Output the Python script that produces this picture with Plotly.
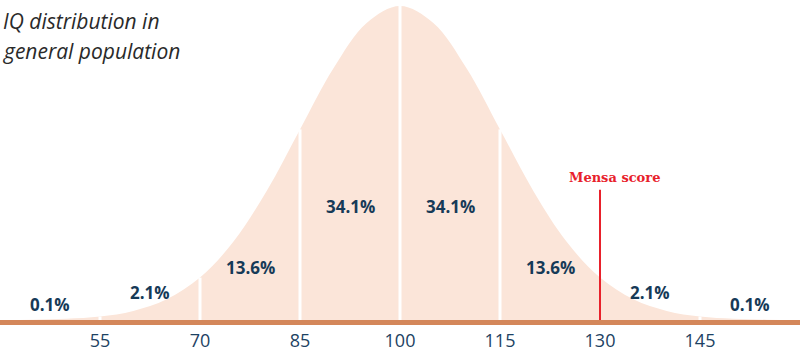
import plotly.graph_objects as go

# Curve height (relative to peak) at IQ steps of 5
iq = [40, 45, 50, 55, 60, 65, 70, 75, 80, 85, 90, 95, 100,
      105, 110, 115, 120, 125, 130, 135, 140, 145, 150, 155, 160]
height = [0.000, 0.001, 0.004, 0.011, 0.029, 0.066, 0.135, 0.249, 0.411, 0.607, 0.801, 0.946, 1.000,
          0.946, 0.801, 0.607, 0.411, 0.249, 0.135, 0.066, 0.029, 0.011, 0.004, 0.001, 0.000]

tick_vals = [55, 70, 85, 100, 115, 130, 145]
tick_text = ["55", "70", "85", "100", "115", "130", "145"]

separators = [55, 70, 85, 100, 115, 145]

band_centers = [47.5, 62.5, 77.5, 92.5, 107.5, 122.5, 137.5, 152.5]
band_labels = ["0.1%", "2.1%", "13.6%", "34.1%", "34.1%", "13.6%", "2.1%", "0.1%"]
label_heights = [0.048, 0.089, 0.166, 0.36, 0.36, 0.166, 0.089, 0.048]

mensa_score = 130
mensa_top = 0.415
mensa_label = "Mensa score"
title_lines = ["IQ distribution in", "general population"]

fig = go.Figure()

fig.add_trace(go.Scatter(
    x=iq, y=height, mode="lines", line=dict(color="#fbe5d9", width=0, shape="spline"),
    fill="tozeroy", fillcolor="#fbe5d9", hoverinfo="skip", showlegend=False))

lookup = dict(zip(iq, height))
for s in separators:
    fig.add_trace(go.Scatter(
        x=[s, s], y=[0, lookup[s]], mode="lines",
        line=dict(color="white", width=3), hoverinfo="skip", showlegend=False))

fig.add_trace(go.Scatter(
    x=[mensa_score, mensa_score], y=[0, mensa_top], mode="lines",
    line=dict(color="#e8212b", width=2), hoverinfo="skip", showlegend=False))

for xc, lab, yh in zip(band_centers, band_labels, label_heights):
    fig.add_annotation(x=xc, y=yh, text="<b>%s</b>" % lab, showarrow=False,
                       font=dict(family="Open Sans", size=17, color="#163a57"),
                       xanchor="center", yanchor="middle")

fig.add_annotation(x=mensa_score + 2.1, y=0.455, text="<b>%s</b>" % mensa_label, showarrow=False,
                   font=dict(family="DejaVu Serif", size=13, color="#e8212b"),
                   xanchor="center", yanchor="middle")

for i, t in enumerate(title_lines):
    fig.add_annotation(x=0, y=1 - (21 + 30 * i) / 320, xref="paper", yref="paper",
                       text="<i>%s</i>" % t, showarrow=False, xanchor="left", yanchor="middle",
                       xshift=1,
                       font=dict(family="Open Sans", size=21, color="#2a2a2a"))

fig.update_layout(
    width=800, height=354,
    margin=dict(l=0, r=0, t=0, b=34),
    paper_bgcolor="white", plot_bgcolor="white",
    xaxis=dict(range=[40, 160], tickvals=tick_vals, ticktext=tick_text,
               showgrid=False, zeroline=False, showline=True, linecolor="#d4875a", linewidth=5,
               ticks="", tickfont=dict(family="Open Sans", size=18, color="#1d4263")),
    yaxis=dict(range=[0, 1.019], visible=False, showgrid=False, zeroline=False),
)

fig.write_html("out.html")
